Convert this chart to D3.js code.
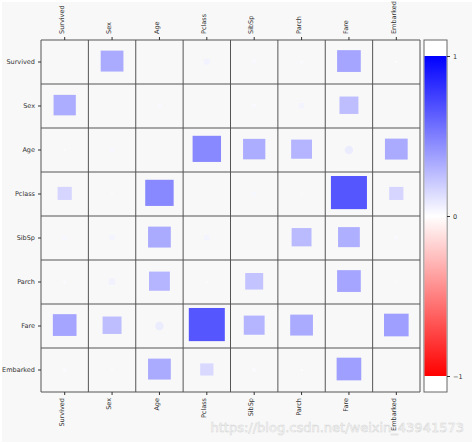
<!DOCTYPE html>
<html><head><meta charset="utf-8">
<script src="https://cdn.jsdelivr.net/npm/d3@7"></script>
<style>body{margin:0;background:#fff}text{font-family:"DejaVu Sans",sans-serif}</style>
</head><body><svg id="c" width="474" height="444"></svg>
<script>
const vars = ["Survived","Sex","Age","Pclass","SibSp","Parch","Fare","Embarked"];
// estimated |correlation| per row (rows follow vars order)
const rowSurvived = [0, 0.48, 0.02, 0.13, 0.08, 0.06, 0.5, 0.04];
const rowSex      = [0.47, 0, 0.08, 0.02, 0.08, 0.12, 0.4, 0.01];
const rowAge      = [0.03, 0.1, 0, 0.6, 0.47, 0.44, 0.18, 0.48];
const rowPclass   = [0.3, 0.03, 0.6, 0, 0.1, 0.03, 0.76, 0.3];
const rowSibSp    = [0.1, 0.12, 0.48, 0.12, 0, 0.42, 0.46, 0.08];
const rowParch    = [0.06, 0.14, 0.44, 0.03, 0.38, 0, 0.5, 0.03];
const rowFare     = [0.5, 0.4, 0.18, 0.76, 0.44, 0.48, 0, 0.52];
const rowEmbarked = [0.07, 0.03, 0.48, 0.28, 0.07, 0.05, 0.52, 0];
const matrix = [rowSurvived,rowSex,rowAge,rowPclass,rowSibSp,rowParch,rowFare,rowEmbarked];
// cells drawn as circles instead of squares
const circleCells = [[2,6],[6,2]];
const cbTicks = [1, 0, -1];

const svg = d3.select("#c");
svg.append("rect").attr("width",474).attr("height",444).attr("fill","#fff");
svg.append("rect").attr("x",2).attr("y",2).attr("width",470).attr("height",440).attr("fill","#f8f8f8");

const x = d3.scaleBand().domain(vars).range([41,420]);
const y = d3.scaleBand().domain(vars).range([40,392]);
const col = v => d3.interpolateRgb("#ffffff","#0000ff")(Math.pow(v,1.5));

const g = svg.append("g");
matrix.forEach((row,i)=>row.forEach((v,j)=>{
  const cx = x(vars[j])+x.bandwidth()/2, cy = y(vars[i])+y.bandwidth()/2;
  if (circleCells.some(c=>c[0]===i&&c[1]===j)) {
    g.append("circle").attr("cx",cx).attr("cy",cy).attr("r",v*x.bandwidth()/2).attr("fill",col(v));
  } else if (v>0) {
    const s = v*x.bandwidth();
    g.append("rect").attr("x",cx-s/2).attr("y",cy-s/2).attr("width",s).attr("height",s*0.92).attr("fill",col(v));
  }
}));
// grid
const gl = svg.append("g").attr("stroke","#555").attr("stroke-width",1);
vars.concat([null]).forEach((d,k)=>{
  const xx = k<vars.length?x(d):420, yy = k<vars.length?y(d):392;
  gl.append("line").attr("x1",xx).attr("x2",xx).attr("y1",40).attr("y2",392);
  gl.append("line").attr("y1",yy).attr("y2",yy).attr("x1",41).attr("x2",420);
});

const fs = 6.5;
svg.append("g").attr("transform","translate(41,0)").call(d3.axisLeft(y).tickSize(3))
  .call(a=>{a.select(".domain").remove();a.selectAll("text").attr("font-size",fs).attr("fill","#333");a.selectAll("line").attr("stroke","#333");});
svg.append("g").attr("transform","translate(0,392)").call(d3.axisBottom(x).tickSize(3))
  .call(a=>{a.select(".domain").remove();a.selectAll("line").attr("stroke","#333");
    a.selectAll("text").attr("font-size",fs).attr("fill","#333").attr("transform","rotate(-90)")
     .attr("text-anchor","end").attr("x",-6).attr("y",-3).attr("dy","0.35em");});
svg.append("g").attr("transform","translate(0,40)").call(d3.axisTop(x).tickSize(3))
  .call(a=>{a.select(".domain").remove();a.selectAll("line").attr("stroke","#333");
    a.selectAll("text").attr("font-size",fs).attr("fill","#333").attr("transform","rotate(-90)")
     .attr("text-anchor","start").attr("x",6).attr("y",-3).attr("dy","0.35em");});

// colorbar
const cy = d3.scaleLinear().domain([1,-1]).range([56,376]);
const defs = svg.append("defs");
const grad = defs.append("linearGradient").attr("id","cb").attr("x1",0).attr("x2",0).attr("y1",0).attr("y2",1);
grad.append("stop").attr("offset","0%").attr("stop-color","#0000ff");
grad.append("stop").attr("offset","50%").attr("stop-color","#ffffff");
grad.append("stop").attr("offset","100%").attr("stop-color","#ff0000");
svg.append("rect").attr("x",424).attr("y",40).attr("width",23).attr("height",352).attr("fill","#fff").attr("stroke","#666");
svg.append("rect").attr("x",424.5).attr("y",cy(1)).attr("width",22).attr("height",cy(-1)-cy(1)).attr("fill","url(#cb)");
svg.append("g").attr("transform","translate(447,0)").call(d3.axisRight(cy).tickValues(cbTicks).tickSize(3).tickFormat(d3.format("d")))
  .call(a=>{a.select(".domain").remove();a.selectAll("text").attr("font-size",fs).attr("fill","#333");a.selectAll("line").attr("stroke","#333");});

svg.append("text").attr("x",464).attr("y",432).attr("text-anchor","end").attr("font-size",13)
  .attr("fill","#fff").attr("stroke","#ccc").attr("stroke-width",0.5).attr("opacity",0.8).text("https://blog.csdn.net/weixin_43941573");
</script></body></html>
